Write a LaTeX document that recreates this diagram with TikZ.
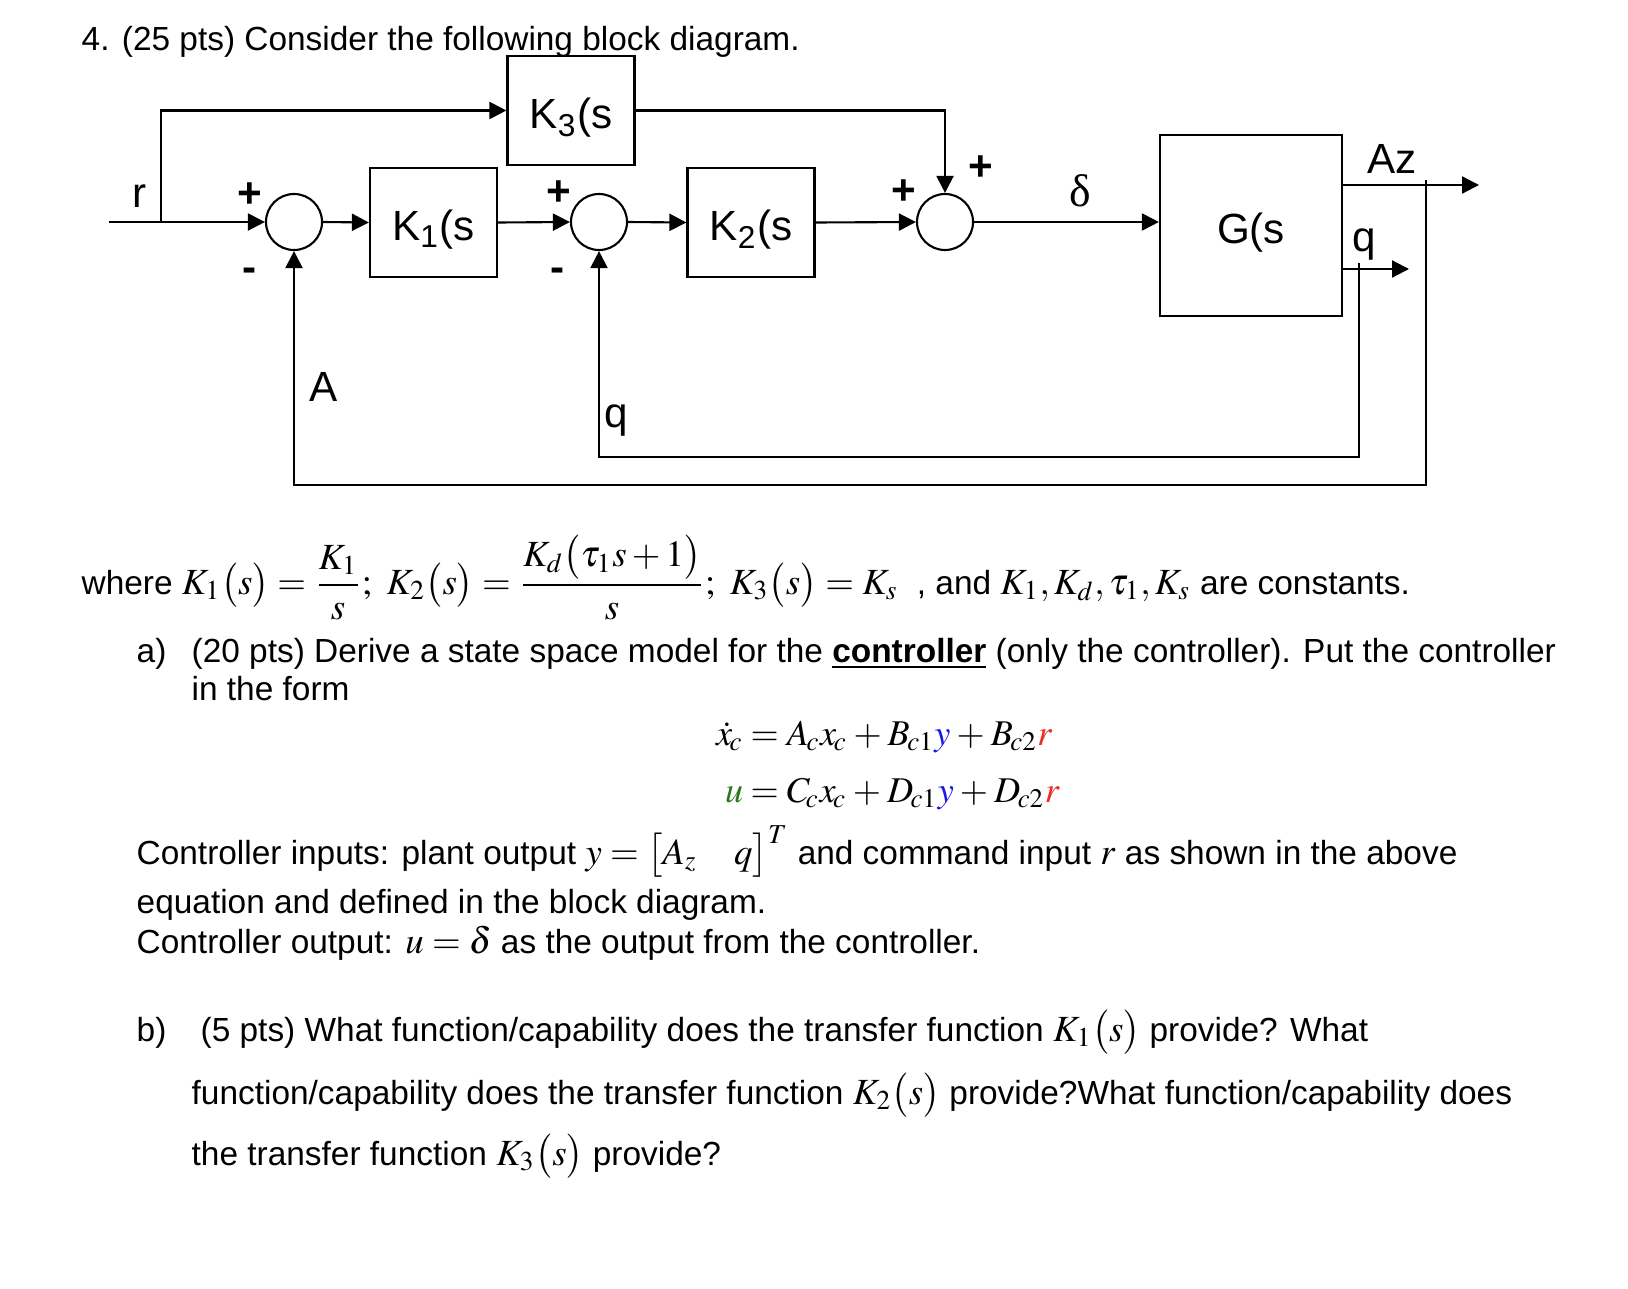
\documentclass[tikz,border=0pt]{standalone}
\usepackage{amsmath}
\usepackage{mathptmx}
\usepackage[no-math]{fontspec}
\setmainfont{Liberation Sans}
\newfontfamily\serifgr{Liberation Serif}
\usetikzlibrary{arrows.meta}
\definecolor{eqblue}{RGB}{25,25,235}
\definecolor{eqred}{RGB}{235,45,35}
\definecolor{eqgreen}{RGB}{45,120,30}
\newcommand\mth[1]{{\fontsize{10.5}{12}\selectfont$#1$}}
\newcommand\blab[1]{\raisebox{-0.07cm}[\height][\depth]{#1}\hspace{0.14cm}}
\newcommand\tk{\kern-0.7pt}
\begin{document}
\begin{tikzpicture}[x=0.01cm,y=-0.01cm,
  ln/.style={line width=0.6pt},
  arr/.style={ln,-{Triangle[length=0.17cm,width=0.17cm]}},
  blk/.style={draw,ln,inner sep=0,minimum width=1.27cm,minimum height=1.09cm,font=\fontsize{12}{14}\selectfont},
  sumc/.style={draw,ln,circle,minimum size=0.56cm,inner sep=0},
  lbl/.style={inner sep=0,font=\fontsize{12}{14}\selectfont},
  sgn/.style={inner sep=0,font=\bfseries\fontsize{12}{14}\selectfont},
  txt/.style={anchor=base west,inner sep=0,font=\fontsize{9.5}{11}\selectfont},
  eqn/.style={inner sep=0,font=\fontsize{10.3}{12}\selectfont}]
\fill[white] (0,0) rectangle (1628,1288);
\useasboundingbox (0,0) rectangle (1628,1288);

% blocks
\node[blk] (K3) at (571,110.5) {\blab{K\textsubscript{3}(s}};
\node[blk] (K1) at (433.5,222.5) {\blab{K\textsubscript{1}(s}};
\node[blk] (K2) at (751,222.5) {\blab{K\textsubscript{2}(s}};
\node[blk,minimum width=1.82cm,minimum height=1.81cm] (G) at (1251,225.5) {\blab{G(s}};

% summing junctions
\node[sumc] (s1) at (294,222) {};
\node[sumc] (s2) at (599,222) {};
\node[sumc] (s3) at (945,222) {};

% coordinates
\coordinate (rin) at (109,222);
\coordinate (rb) at (161,222);
\coordinate (azs) at (1342,185);
\coordinate (aze) at (1479,185);
\coordinate (qs) at (1342,269);
\coordinate (qe) at (1409,269);
\coordinate (fa1) at (1426,180);
\coordinate (fa2) at (1426,485);
\coordinate (fq1) at (1359,263);
\coordinate (fq2) at (1359,457);

% connectors
\draw[arr] (rin) -- (s1.west);
\draw[arr] (rb) |- (K3.west);
\draw[arr] (s1.east) -- (K1.west);
\draw[arr] (K1.east) -- (s2.west);
\draw[arr] (s2.east) -- (K2.west);
\draw[arr] (K2.east) -- (s3.west);
\draw[arr] (K3.east) -| (s3.north);
\draw[arr] (s3.east) -- (s3.east -| G.west);
\draw[arr] (azs) -- (aze);
\draw[arr] (qs) -- (qe);
\draw[arr] (fa1) -- (fa2) -| (s1.south);
\draw[arr] (fq1) -- (fq2) -| (s2.south);

% labels
\node[lbl] (lr) at (140,196) {r};
\node[sgn] (p1) at (250,195) {+};
\node[sgn] (m1) at (250,275) {-};
\node[sgn] (p2) at (559,193) {+};
\node[sgn] (m2) at (558,275) {-};
\node[sgn] (p3) at (904,192) {+};
\node[sgn] (p4) at (981,168) {+};
\node[lbl] (lA) at (324,387) {A};
\node[lbl] (lq1) at (616,421) {q};
\node[lbl] (lq2) at (1364,245) {q};
\node[lbl] (laz) at (1392,159) {Az};
\node[lbl,font=\serifgr\fontsize{13}{15}\selectfont] (ld) at (1080,191) {δ};

% text
\node[txt] (title) at (81,51) {4. (25 pts) Consider the following block diagram.};
\node[txt] (where) at (81,594) {where \mth{K_1\bigl(s\bigr)=\dfrac{K_1}{s};\ K_2\bigl(s\bigr)=\dfrac{K_d\bigl(\tau_1 s+1\bigr)}{s};\ K_3\bigl(s\bigr)=K_s}\ \ , and \mth{K_1,K_d,\tau_1,K_s} are constants.};
\node[txt] (ta) at (136,662) {a)};
\node[txt] (ta1) at (191,662) {(20 pts) Derive a state space model for the \textbf{\underline{controller}} (only the controller). Put the controller};
\node[txt] (ta2) at (191,700) {in the form};
\node[eqn,anchor=base east] (e1l) at (744,745) {$\dot{x}_{\tk c}$};
\node[eqn,anchor=base west] (e1r) at (750,745) {\medmuskip=3mu$=A_{\tk c} x_{\tk c}+B_{\tk c1}\textcolor{eqblue}{y}+B_{\tk c2}\textcolor{eqred}{r}$};
\node[eqn,anchor=base east] (e2l) at (744,802) {$\textcolor{eqgreen}{u}$};
\node[eqn,anchor=base west] (e2r) at (750,802) {\medmuskip=3mu$=C_{\tk c} x_{\tk c}+D_{\tk c1}\textcolor{eqblue}{y}+D_{\tk c2}\textcolor{eqred}{r}$};
\node[txt] (ci1) at (136,864) {Controller inputs: plant output \mth{y=\bigl[A_z\quad q\bigr]^T} and command input \mth{r} as shown in the above};
\node[txt] (ci2) at (136,913) {equation and defined in the block diagram.};
\node[txt] (co) at (136,953) {Controller output: \mth{u=\delta} as the output from the controller.};
\node[txt] (tb) at (136,1041) {b)};
\node[txt] (tb1) at (200,1041) {(5 pts) What function/capability does the transfer function \mth{K_1\bigl(s\bigr)} provide? What};
\node[txt] (tb2) at (191,1104) {function/capability does the transfer function \mth{K_2\bigl(s\bigr)} provide?What function/capability does};
\node[txt] (tb3) at (191,1165) {the transfer function \mth{K_3\bigl(s\bigr)} provide?};
\end{tikzpicture}
\end{document}
